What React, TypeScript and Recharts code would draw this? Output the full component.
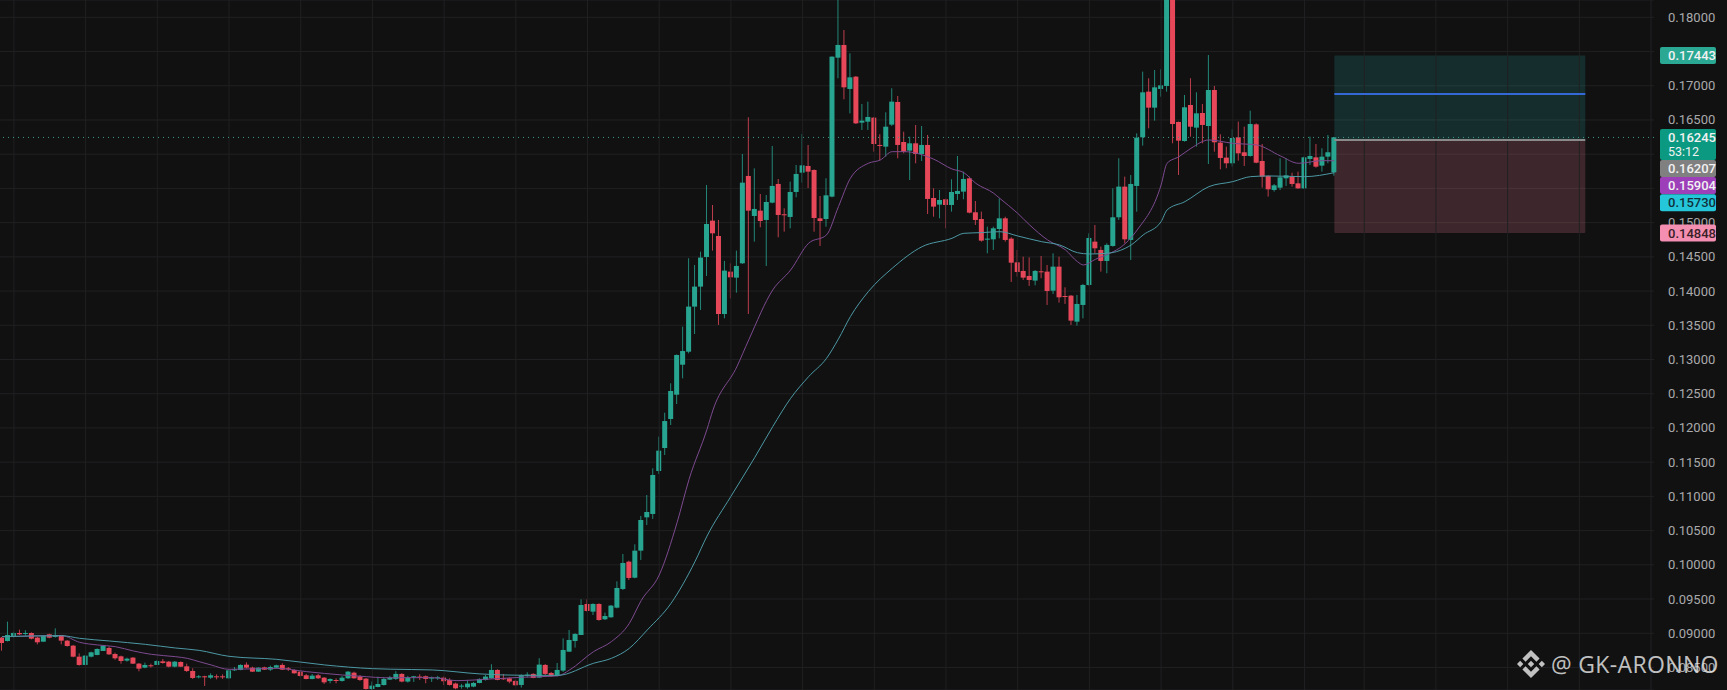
import {
  Bar,
  CartesianGrid,
  ComposedChart,
  Line,
  ReferenceArea,
  ReferenceLine,
  XAxis,
  YAxis,
} from "recharts";

// prices are kept in points, 1 point = 0.00001
const POINT = 0.00001;

const opens = [
  8936, 8887, 8950, 9004, 8990, 9004, 8936, 8877, 8985, 8946,
  8975, 8892, 8819, 8658, 8537, 8658, 8683, 8741, 8785, 8697,
  8663, 8600, 8644, 8556, 8498, 8532, 8537, 8590, 8585, 8512,
  8580, 8517, 8449, 8356, 8371, 8351, 8371, 8371, 8342, 8459,
  8463, 8541, 8498, 8439, 8502, 8468, 8498, 8537, 8488, 8463,
  8439, 8386, 8332, 8386, 8351, 8303, 8317, 8303, 8342, 8424,
  8371, 8337, 8186, 8215, 8244, 8323, 8333, 8406, 8294, 8357,
  8367, 8372, 8342, 8342, 8352, 8318, 8265, 8221, 8211, 8221,
  8274, 8318, 8342, 8464, 8342, 8342, 8304, 8245, 8381, 8406,
  8352, 8537, 8420, 8377, 8454, 8731, 8887, 8975, 9428, 9316,
  9428, 9204, 9233, 9374, 9647, 10046, 9812, 10207, 10694, 10743,
  11371, 11707, 12131, 12486, 12924, 13114, 13773, 14065, 14498, 15029,
  14805, 13665, 14284, 14196, 14406, 15682, 15097, 15175, 15039, 15292,
  15565, 15122, 15083, 15448, 15730, 15828, 15769, 15063, 15053, 15380,
  17410, 17596, 16953, 17133, 16461, 16475, 16534, 16135, 16110, 16432,
  16763, 16178, 16052, 16159, 16003, 16135, 15360, 15263, 15341, 15258,
  15419, 15453, 15647, 15151, 15053, 14751, 14756, 14907, 15063, 14766,
  14420, 14294, 14221, 14153, 14289, 14284, 14006, 14357, 13928, 13933,
  13553, 13797, 14089, 14722, 14601, 14440, 14659, 15078, 15526, 14747,
  15536, 16247, 16914, 16680, 16953, 16997, 18400, 16471, 16193, 16719,
  16388, 16602, 16412, 16938, 16169, 15950, 15867, 16247, 16028, 15974,
  16436, 15901, 15682, 15477, 15511, 15648, 15672, 15574, 15501, 15930,
  15954, 15833, 15964, 15735,
];

const highs = [
  8946, 9170, 9023, 9053, 9043, 9014, 8946, 8975, 8994, 9072,
  8975, 8902, 8829, 8707, 8683, 8731, 8780, 8829, 8804, 8717,
  8673, 8644, 8653, 8566, 8571, 8556, 8605, 8624, 8595, 8595,
  8590, 8556, 8488, 8390, 8380, 8415, 8400, 8400, 8468, 8507,
  8546, 8575, 8512, 8502, 8512, 8527, 8541, 8561, 8507, 8473,
  8449, 8405, 8405, 8405, 8361, 8342, 8342, 8376, 8449, 8439,
  8390, 8347, 8293, 8366, 8361, 8377, 8445, 8416, 8377, 8377,
  8401, 8382, 8367, 8377, 8367, 8342, 8279, 8260, 8318, 8289,
  8342, 8391, 8547, 8474, 8406, 8357, 8318, 8401, 8430, 8416,
  8635, 8552, 8435, 8566, 8926, 9048, 9000, 9496, 9496, 9438,
  9438, 9301, 9413, 9759, 10158, 10061, 10300, 10714, 11020, 11410,
  11873, 12223, 12652, 13075, 13480, 14479, 14381, 14576, 15550, 15258,
  15039, 14440, 14406, 14591, 16003, 16539, 15793, 15419, 15404, 16120,
  15638, 15209, 15599, 15842, 16295, 16135, 15779, 15389, 15648, 17430,
  18400, 17815, 17474, 17143, 16734, 16768, 16544, 16291, 16612, 16963,
  16851, 16329, 16256, 16427, 16412, 16281, 15501, 15477, 15350, 15633,
  15974, 15745, 15672, 15316, 15161, 14941, 14941, 15355, 15087, 14786,
  14601, 14503, 14493, 14308, 14513, 14381, 14552, 14503, 14055, 13943,
  13943, 14104, 14844, 14966, 14650, 14698, 15501, 15940, 15672, 15696,
  16305, 17206, 17109, 17230, 17240, 18400, 18400, 16476, 16865, 17109,
  16904, 16734, 17449, 16997, 16291, 16110, 16363, 16476, 16402, 16636,
  16451, 16149, 15691, 15565, 15940, 15940, 15730, 15745, 15964, 16256,
  16149, 16086, 16281, 16247,
];

const lows = [
  8746, 8880, 8936, 8975, 8965, 8911, 8838, 8877, 8926, 8936,
  8838, 8804, 8648, 8527, 8537, 8648, 8678, 8741, 8683, 8614,
  8556, 8585, 8551, 8444, 8488, 8498, 8537, 8556, 8502, 8502,
  8507, 8434, 8332, 8342, 8230, 8332, 8327, 8332, 8337, 8449,
  8459, 8488, 8434, 8434, 8463, 8449, 8488, 8463, 8449, 8410,
  8366, 8327, 8327, 8332, 8259, 8269, 8269, 8293, 8332, 8337,
  8303, 8176, 8172, 8210, 8235, 8318, 8318, 8284, 8279, 8289,
  8318, 8269, 8289, 8318, 8245, 8235, 8182, 8191, 8191, 8211,
  8269, 8308, 8333, 8313, 8318, 8269, 8235, 8206, 8357, 8343,
  8347, 8391, 8367, 8372, 8435, 8731, 8790, 8975, 9316, 9267,
  9184, 9194, 9228, 9364, 9632, 9779, 9803, 10071, 10582, 10670,
  11327, 11605, 12043, 12350, 12725, 13090, 13373, 13724, 14221, 14591,
  13505, 13602, 13894, 13977, 14396, 13665, 14722, 14932, 14367, 15282,
  14786, 14868, 14917, 15370, 15584, 15506, 14868, 14659, 14941, 15370,
  17109, 16802, 16597, 16441, 16354, 16354, 16037, 15915, 15964, 16412,
  15940, 16013, 15623, 15867, 15901, 15126, 15087, 15063, 14917, 15161,
  15331, 15341, 15136, 14966, 14722, 14552, 14601, 14771, 14722, 14133,
  14211, 14162, 14075, 14084, 14187, 13797, 13958, 13831, 13812, 13505,
  13495, 13602, 14079, 14552, 14284, 14260, 14649, 15039, 14698, 14454,
  15160, 16125, 16378, 16490, 16841, 16914, 16159, 15696, 16183, 16256,
  16110, 16159, 15857, 16037, 15779, 15794, 15818, 15906, 15828, 15964,
  15867, 15511, 15380, 15453, 15477, 15536, 15526, 15492, 15492, 15842,
  15803, 15745, 15867, 15686,
];

const closes = [
  8858, 8975, 9004, 8985, 9004, 8921, 8868, 8965, 8936, 8975,
  8892, 8814, 8658, 8537, 8673, 8722, 8770, 8819, 8692, 8634,
  8595, 8629, 8556, 8483, 8537, 8522, 8595, 8566, 8512, 8585,
  8512, 8449, 8347, 8371, 8356, 8386, 8361, 8361, 8459, 8473,
  8537, 8498, 8439, 8498, 8468, 8507, 8532, 8468, 8478, 8415,
  8376, 8332, 8381, 8342, 8283, 8332, 8308, 8351, 8439, 8342,
  8317, 8186, 8235, 8259, 8333, 8352, 8406, 8294, 8357, 8372,
  8357, 8333, 8352, 8357, 8299, 8245, 8196, 8235, 8265, 8274,
  8333, 8367, 8464, 8318, 8333, 8294, 8240, 8386, 8396, 8347,
  8542, 8406, 8372, 8464, 8756, 8902, 8990, 9413, 9326, 9428,
  9194, 9252, 9404, 9662, 10027, 9808, 10207, 10655, 10772, 11313,
  11668, 12101, 12540, 13066, 13124, 13773, 14065, 14489, 14980, 14844,
  13665, 14299, 14201, 14367, 15584, 15175, 15200, 15024, 15302, 15536,
  15112, 15112, 15448, 15711, 15837, 15745, 15068, 15024, 15399, 17425,
  17596, 16977, 17123, 16451, 16490, 16544, 16149, 16125, 16402, 16768,
  16135, 16037, 16159, 16003, 16135, 15346, 15234, 15331, 15258, 15448,
  15463, 15638, 15146, 15039, 14737, 14766, 14917, 15063, 14747, 14415,
  14279, 14196, 14162, 14294, 14279, 14001, 14357, 13909, 13918, 13568,
  13812, 14089, 14776, 14625, 14440, 14674, 15078, 15526, 14756, 15565,
  16242, 16904, 16680, 16977, 17006, 18400, 16441, 16198, 16685, 16402,
  16597, 16427, 16938, 16174, 15945, 15867, 16237, 16013, 15974, 16441,
  15876, 15672, 15487, 15545, 15662, 15691, 15565, 15501, 15954, 15974,
  15818, 15964, 16028, 16247,
];

// moving averages, read at the bars listed in the matching slots array
const fastSlots = [
  0, 10, 13, 16, 19, 22, 25, 29, 31, 33, 35, 38, 46, 51, 57, 61, 64, 72, 76, 82,
  87, 93, 95, 99, 102, 105, 107, 110, 113, 115, 118, 119, 123, 125, 129, 132,
  135, 138, 140, 142, 145, 147, 149, 151, 156, 159, 161, 163, 166, 167, 170,
  172, 175, 178, 180, 181, 183, 186, 187, 190, 194, 195, 197, 199, 202, 206,
  210, 214, 217, 221, 223,
];
const fastEma = [
  8950, 8965, 8868, 8829, 8804, 8741, 8692, 8658, 8634, 8585, 8537, 8473, 8487,
  8439, 8390, 8366, 8350, 8352, 8308, 8333, 8357, 8377, 8464, 8731, 8878, 9145,
  9480, 9851, 10620, 11250, 11980, 12262, 12895, 13290, 14016, 14308, 14698,
  14820, 15234, 15648, 15867, 15915, 16037, 16037, 15925, 15784, 15730, 15574,
  15428, 15355, 15136, 14966, 14747, 14601, 14430, 14381, 14464, 14576, 14625,
  14893, 15550, 15867, 15964, 16086, 16208, 16159, 16135, 15974, 15867, 15906,
  15904,
];
const slowSlots = [
  0, 10, 13, 18, 24, 29, 33, 38, 46, 54, 62, 65, 72, 80, 87, 93, 99, 102, 105,
  108, 112, 116, 118, 122, 126, 129, 132, 135, 138, 140, 142, 145, 149, 154,
  159, 161, 164, 167, 170, 174, 177, 180, 182, 185, 188, 189, 191, 194, 195,
  198, 202, 206, 209, 212, 218, 223,
];
const slowEma = [
  8950, 8965, 8926, 8887, 8838, 8785, 8750, 8663, 8619, 8537, 8483, 8475, 8464,
  8406, 8386, 8385, 8561, 8634, 8780, 9048, 9440, 10050, 10420, 11000, 11570,
  12019, 12433, 12749, 13017, 13300, 13627, 13992, 14333, 14649, 14771, 14844,
  14854, 14868, 14805, 14722, 14674, 14561, 14542, 14552, 14625, 14674, 14820,
  15014, 15185, 15307, 15526, 15599, 15672, 15682, 15672, 15730,
];

const priceTicks = [
  0.085, 0.09, 0.095, 0.1, 0.105, 0.11, 0.115, 0.12, 0.125, 0.13, 0.135, 0.14,
  0.145, 0.15, 0.155, 0.16, 0.165, 0.17, 0.175, 0.18,
];
// these tick labels sit fully behind the price tags on the axis
const coveredTicks = ["0.15500", "0.16000", "0.17500"];
const gridSlots = [
  2, 14, 26, 38, 50, 62, 74, 86, 98, 110, 122, 134, 146, 158, 170, 182, 194, 206,
  218, 228, 240, 252, 264, 276,
];

const SLOT_COUNT = 277;
const PRICE_DOMAIN = [0.08171, 0.18253];
const GRID_COLOR = "#202022";
const TARGET = 0.17443;
const STOP = 0.14848;
const ENTRY = 0.16207;
const MIDLINE = 0.16879;
const LAST = 0.16245;
const BOX_START = 223;
const BOX_END = 265;

const rows = Array.from({ length: SLOT_COUNT }, (_, i) => {
  const fastAt = fastSlots.indexOf(i);
  const slowAt = slowSlots.indexOf(i);
  return {
    slot: i,
    open: i < opens.length ? opens[i] * POINT : null,
    close: i < opens.length ? closes[i] * POINT : null,
    high: i < opens.length ? highs[i] * POINT : null,
    low: i < opens.length ? lows[i] * POINT : null,
    range: i < opens.length ? [lows[i] * POINT, highs[i] * POINT] : null,
    fast: fastAt >= 0 ? fastEma[fastAt] * POINT : null,
    slow: slowAt >= 0 ? slowEma[slowAt] * POINT : null,
  };
});

const UP = "#27a590";
const DOWN = "#e6485a";

function Candle(props: any) {
  const { x, y, width, height, payload } = props;
  if (!payload || payload.open == null) return null;
  const span = payload.high - payload.low;
  const at = (v: number) => y + ((payload.high - v) / span) * height;
  const up = payload.close >= payload.open;
  const color = up ? UP : DOWN;
  const top = at(Math.max(payload.open, payload.close));
  const bottom = at(Math.min(payload.open, payload.close));
  const mid = x + width / 2;
  return (
    <g>
      <line x1={mid} x2={mid} y1={y} y2={y + height} stroke={color} strokeWidth={1} strokeOpacity={0.8} />
      <rect x={x} y={top} width={width} height={Math.max(bottom - top, 1)} fill={color} />
    </g>
  );
}

function BoxShape(props: any) {
  const { x, y, width, height, fill } = props;
  const half = width / (BOX_END - BOX_START + 1) / 2;
  return <rect x={x + half} y={y} width={width - half * 2} height={height} fill={fill} rx={1} />;
}

function PriceTick(props: any) {
  const { x, y, payload } = props;
  const text = payload.value.toFixed(5);
  if (coveredTicks.includes(text)) return null;
  return (
    <text x={x} y={y + 4.5} fill="#a9a9ab" fontSize={13} fontFamily="Roboto, sans-serif">
      {text}
    </text>
  );
}

function tag(text: string, fill: string, color: string, shift: number, extra?: string) {
  return (props: any) => {
    const vb = props.viewBox;
    const x = vb.x + vb.width + 6;
    const cy = vb.y + shift;
    return (
      <g>
        <rect x={x} y={cy - 8.5} width={56} height={extra ? 31 : 17} rx={2} fill={fill} />
        <text x={x + 8} y={cy + 4.5} fill={color} fontSize={13} fontWeight={500} fontFamily="Roboto, sans-serif">
          {text}
        </text>
        {extra ? (
          <text x={x + 8} y={cy + 18.5} fill={color} fontSize={12.5} fontFamily="Roboto, sans-serif">
            {extra}
          </text>
        ) : null}
      </g>
    );
  };
}

export default function App() {
  return (
    <div style={{ position: "fixed", inset: 0, background: "#111112", overflow: "hidden" }}>
      <div style={{ position: "absolute", left: -1, top: 0 }}>
        <ComposedChart
          width={1728}
          height={690}
          data={rows}
          margin={{ top: 0, right: 0, bottom: 0, left: 0 }}
          barCategoryGap={0}
        >
          <CartesianGrid stroke={GRID_COLOR} strokeWidth={1} vertical={false} />
          <XAxis
            dataKey="slot"
            type="category"
            interval={0}
            height={0}
            tick={false}
            tickLine={false}
            axisLine={false}
          />
          <YAxis
            orientation="right"
            type="number"
            width={73}
            domain={PRICE_DOMAIN}
            allowDataOverflow
            ticks={priceTicks}
            interval={0}
            tickLine={false}
            axisLine={false}
            tickSize={0}
            tickMargin={14}
            tick={PriceTick}
          />
          {gridSlots.map((s) => (
            <ReferenceLine key={s} x={s} stroke={GRID_COLOR} strokeWidth={1} />
          ))}
          <ReferenceArea x1={BOX_START} x2={BOX_END} y1={ENTRY} y2={TARGET} fill="rgba(38,166,154,0.2)" shape={BoxShape} />
          <ReferenceArea x1={BOX_START} x2={BOX_END} y1={STOP} y2={ENTRY} fill="rgba(240,130,150,0.2)" shape={BoxShape} />
          <ReferenceLine y={LAST} stroke="#3f9a85" strokeDasharray="1 4" />
          <ReferenceLine
            segment={[{ x: BOX_START, y: MIDLINE }, { x: BOX_END, y: MIDLINE }]}
            stroke="#3468d6"
            strokeWidth={2}
          />
          <ReferenceLine
            segment={[{ x: BOX_START, y: ENTRY }, { x: BOX_END, y: ENTRY }]}
            stroke="#8a8a8a"
            strokeWidth={2}
          />
          <Bar dataKey="range" barSize={5} shape={Candle} isAnimationActive={false} />
          <Line type="monotone" dataKey="fast" stroke="#7d4a8f" strokeWidth={1} dot={false} activeDot={false} connectNulls isAnimationActive={false} />
          <Line type="monotone" dataKey="slow" stroke="#4c98a3" strokeWidth={1} dot={false} activeDot={false} connectNulls isAnimationActive={false} />
        </ComposedChart>
      </div>
      {/* tags go in a second chart on the same price scale so they cover the axis labels */}
      <div style={{ position: "absolute", left: -1, top: 0 }}>
        <ComposedChart
          width={1728}
          height={690}
          data={rows}
          margin={{ top: 0, right: 73, bottom: 0, left: 0 }}
        >
          <XAxis dataKey="slot" type="category" hide />
          <YAxis type="number" domain={PRICE_DOMAIN} allowDataOverflow hide />
          <ReferenceLine y={TARGET} stroke="none" label={tag("0.17443", "#2aa893", "#f2f2f2", 0)} />
          <ReferenceLine y={STOP} stroke="none" label={tag("0.14848", "#f48fb1", "#3a2028", 0)} />
          <ReferenceLine y={LAST} stroke="none" label={tag("0.16245", "#0b9981", "#f2f2f2", 0, "53:12")} />
          <ReferenceLine y={ENTRY} stroke="none" label={tag("0.16207", "#808080", "#f2f2f2", 28.5)} />
          <ReferenceLine y={0.15904} stroke="none" label={tag("0.15904", "#9c3fb8", "#f2f2f2", 24.8)} />
          <ReferenceLine y={0.1573} stroke="none" label={tag("0.15730", "#26c6da", "#10303a", 30.2)} />
        </ComposedChart>
      </div>
      <div
        style={{
          position: "absolute",
          left: 1517,
          top: 648,
          display: "flex",
          alignItems: "center",
          color: "rgba(225,225,225,0.85)",
          fontFamily: "'Open Sans', sans-serif",
          fontSize: 23,
          letterSpacing: 0.35,
          lineHeight: "32px",
          whiteSpace: "nowrap",
        }}
      >
        <svg width={28} height={28} viewBox="0 0 126.61 126.61" style={{ marginRight: 6 }}>
          <path
            fill="rgba(225,225,225,0.85)"
            d="M38.73 53.2 63.3 28.63l24.58 24.58 14.3-14.3L63.3 0 24.43 38.9zM0 63.3 14.3 49l14.3 14.3-14.3 14.3zM38.73 73.42 63.3 98l24.58-24.58 14.3 14.29-38.88 38.9-38.87-38.87zM98.01 63.31l14.3-14.3 14.3 14.3-14.3 14.3zM77.83 63.3 63.3 48.78 48.78 63.3 63.3 77.82z"
          />
        </svg>
        @ GK-ARONNO
      </div>
    </div>
  );
}
